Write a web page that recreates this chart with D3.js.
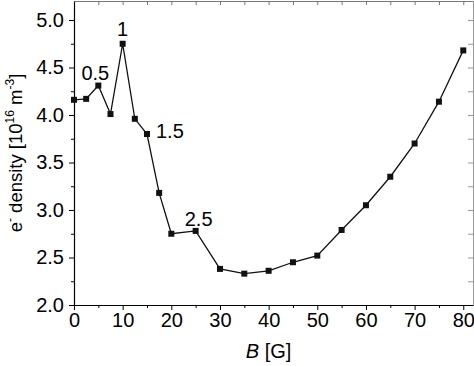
<!DOCTYPE html>
<html>
<head>
<meta charset="utf-8">
<script src="https://cdn.jsdelivr.net/npm/d3@7"></script>
<style>
  body { margin: 0; background: #fff; }
  svg { display: block; font-family: "Liberation Sans", Arial, sans-serif; }
</style>
</head>
<body>
<svg class="density-chart" width="474" height="366"></svg>
<script>
// magnetic field B [G] and electron density [1e16 m^-3]
const fieldB = [0, 2.5, 5, 7.5, 10, 12.5, 15, 17.5, 20, 25, 30, 35, 40, 45, 50, 55, 60, 65, 70, 75, 80];
const density = [4.16, 4.17, 4.31, 4.01, 4.75, 3.96, 3.80, 3.18, 2.75, 2.78, 2.38, 2.33, 2.36, 2.45, 2.52, 2.79, 3.05, 3.35, 3.70, 4.14, 4.68];

// annotated points
const noteB = [5, 10, 15, 25];
const noteText = ["0.5", "1", "1.5", "2.5"];

const xTicks = [0, 10, 20, 30, 40, 50, 60, 70, 80];
const yTicks = [2.0, 2.5, 3.0, 3.5, 4.0, 4.5, 5.0];

function drawChart() {
    const svg = d3.select("svg.density-chart");
    const margin = {top: 1, right: 1, bottom: 61, left: 74};
    const width = +svg.attr("width") - margin.left - margin.right;
    const height = +svg.attr("height") - margin.top - margin.bottom;
    const g = svg.append("g").attr("transform", `translate(${margin.left}, ${margin.top})`);

    const x = d3.scaleLinear().domain([0, 82]).range([0, width]);
    const y = d3.scaleLinear().domain([2.0, 5.2]).range([height, 0]);

    const data = fieldB.map((b, i) => ({b: b, n: density[i]}));

    // top / right frame (light, inward ticks)
    g.append("g")
        .attr("class", "axis axis--top")
        .call(d3.axisTop(x).tickValues(d3.range(5, 81, 5)).tickSizeInner(-4).tickSizeOuter(0).tickFormat(""))
        .call(a => a.selectAll("line, path").attr("stroke", "#777"));

    g.append("g")
        .attr("class", "axis axis--right")
        .attr("transform", `translate(${width}, 0)`)
        .call(d3.axisRight(y).tickValues(d3.range(2.25, 5.01, 0.25)).tickSizeInner(-5).tickSizeOuter(0).tickFormat(""))
        .call(a => a.selectAll("line, path").attr("stroke", "#999"));

    // bottom axis: major + minor ticks
    g.append("g")
        .attr("class", "axis axis--x-minor")
        .attr("transform", `translate(0, ${height})`)
        .call(d3.axisBottom(x).tickValues(d3.range(5, 81, 10)).tickSize(3).tickFormat(""))
        .call(a => a.select(".domain").remove());

    g.append("g")
        .attr("class", "axis axis--x")
        .attr("transform", `translate(0, ${height})`)
        .call(d3.axisBottom(x).tickValues(xTicks).tickSizeInner(5).tickSizeOuter(0).tickPadding(3))
        .call(a => a.selectAll("text").attr("font-size", 20).attr("fill", "#000").attr("font-family", null));

    // left axis: major + minor ticks
    g.append("g")
        .attr("class", "axis axis--y-minor")
        .call(d3.axisLeft(y).tickValues(d3.range(2.25, 5.01, 0.5)).tickSize(3).tickFormat(""))
        .call(a => a.select(".domain").remove());

    g.append("g")
        .attr("class", "axis axis--y")
        .call(d3.axisLeft(y).tickValues(yTicks).tickFormat(d3.format(".1f")).tickSizeInner(5).tickSizeOuter(0).tickPadding(5))
        .call(a => a.selectAll("text").attr("font-size", 20).attr("fill", "#000").attr("font-family", null));

    g.selectAll(".axis--x .domain, .axis--y .domain").attr("stroke-width", 1.2);

    // axis titles
    const xt = svg.append("text")
        .attr("x", margin.left + x(40))
        .attr("y", 358)
        .attr("text-anchor", "middle")
        .attr("font-size", 20);
    xt.append("tspan").attr("font-style", "italic").text("B");
    xt.append("tspan").text(" [G]");

    const yt = svg.append("text")
        .attr("transform", `translate(22, ${margin.top + y(3.6)}) rotate(-90)`)
        .attr("text-anchor", "middle")
        .attr("font-size", 18.5);
    yt.append("tspan").text("e");
    yt.append("tspan").attr("font-size", 12).attr("dy", -8).text("-");
    yt.append("tspan").attr("dy", 8).text(" density [10");
    yt.append("tspan").attr("font-size", 12).attr("dy", -8).text("16");
    yt.append("tspan").attr("dy", 8).text(" m");
    yt.append("tspan").attr("font-size", 12).attr("dy", -8).text("-3");
    yt.append("tspan").attr("dy", 8).text("]");

    // line + markers
    const line = d3.line()
        .x(d => x(d.b))
        .y(d => y(d.n));

    g.append("path")
        .datum(data)
        .attr("class", "line")
        .attr("fill", "none")
        .attr("stroke", "#111")
        .attr("stroke-width", 1.3)
        .attr("d", line);

    g.selectAll("rect.pt")
        .data(data)
        .enter().append("rect")
        .attr("class", "pt")
        .attr("x", d => x(d.b) - 3)
        .attr("y", d => y(d.n) - 3)
        .attr("width", 6)
        .attr("height", 6)
        .attr("fill", "#111");

    // annotations next to points
    const offsets = [[-3, -6, "middle"], [0, -8, "middle"], [9, 4, "start"], [3, -5, "middle"]];
    noteB.forEach((b, i) => {
        const n = density[fieldB.indexOf(b)];
        g.append("text")
            .attr("x", x(b) + offsets[i][0])
            .attr("y", y(n) + offsets[i][1])
            .attr("text-anchor", offsets[i][2])
            .attr("font-size", 20)
            .text(noteText[i]);
    });
}

drawChart();
</script>
</body>
</html>
